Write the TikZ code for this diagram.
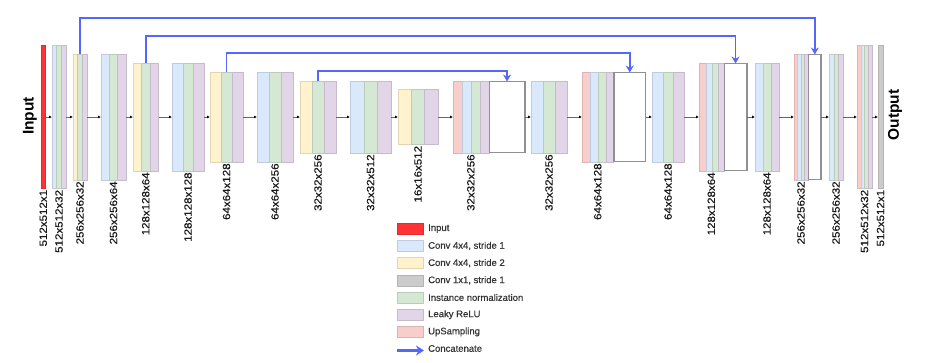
\documentclass[tikz,border=0pt]{standalone}
\usepackage{graphicx}
\usepackage{fontspec}
\setmainfont{Liberation Sans}
\newfontfamily\heavyfont[FakeBold=0.45]{Liberation Sans}
\usetikzlibrary{arrows.meta,fit}
\definecolor{inred}{HTML}{FF3333}
\definecolor{blu}{HTML}{DAE8FC}
\definecolor{yel}{HTML}{FFF2CC}
\definecolor{grn}{HTML}{D5E8D4}
\definecolor{pur}{HTML}{E1D5E7}
\definecolor{pnk}{HTML}{F8CECC}
\definecolor{gry}{HTML}{CCCCCC}
\definecolor{boxgray}{HTML}{909090}
\definecolor{catblue}{HTML}{5566FF}
\definecolor{flowgray}{HTML}{666666}
\tikzset{
  stripe/.style={rectangle, inner sep=0pt, outer sep=0pt, line width=0.35pt},
  catbox/.style={rectangle, inner sep=0pt, outer sep=0pt, draw=boxgray, line width=1.4pt, fill=white},
  lbl/.style={rotate=90, anchor=east, inner sep=1pt, font=\heavyfont\fontsize{10.5}{12}\selectfont, text=black!90},
  flow/.style={draw=flowgray, line width=0.6pt, -{Latex[length=3pt,width=3pt,color=black]}},
  concat/.style={draw=catblue, line width=1.8pt, -{Stealth[length=7pt,width=8pt]}},
  legarrow/.style={draw=catblue, line width=2.6pt, -{Stealth[length=8pt,width=10pt]}},
  zpt/.style={rectangle, inner sep=0pt, outer sep=0pt, minimum size=0pt},
  legtxt/.style={anchor=west, font=\heavyfont\fontsize{9.5}{11}\selectfont, inner sep=0pt, text=black!80},
  swatch/.style={stripe, minimum width=26pt, minimum height=11pt, anchor=west},
  sidetxt/.style={rotate=90, font=\bfseries\fontsize{15.5}{18}\selectfont, inner sep=0pt},
}
\newcommand\blk[5]{%
  \node[zpt] (#1-0) at (#2,117) {};
  \foreach \c/\w [count=\i, remember=\i as \j (initially 0)] in {#4}{%
    \node[stripe, fill=\c, draw=\c!88!black, minimum width=\w pt, minimum height=#3pt, anchor=west] (#1-\i) at (#1-\j.east) {};
    \xdef\lastidx{\i}%
  }%
  \node[fit=(#1-1)(#1-\lastidx), inner sep=0pt] (#1) {};
  \node[lbl] (#1-lbl) at (#1.south) {\scalebox{1.1}[1]{#5}};
}
\begin{document}
\begin{tikzpicture}[x=1pt, y=-1pt]
\useasboundingbox (0,0) rectangle (929,363);

% side texts
\node[sidetxt] (tin) at (30,116) {Input};
\node[sidetxt] (tout) at (895,115) {Output};

% encoder
\blk{in}{41}{143}{inred/4.5}{512x512x1}
\blk{b1}{52}{143}{blu/4.5,grn/5,pur/4.5}{512x512x32}
\blk{b2}{73}{126}{yel/4.5,grn/4.5,pur/5}{256x256x32}
\blk{b3}{101}{126}{blu/8.5,grn/8,pur/8.5}{256x256x64}
\blk{b4}{133}{108}{yel/8.5,grn/8.5,pur/8.5}{128x128x64}
\blk{b5}{172}{108}{blu/10.7,grn/10.7,pur/10.7}{128x128x128}
\blk{b6}{210}{90}{yel/11,grn/11,pur/11}{64x64x128}
\blk{b7}{257}{90}{blu/12,grn/12,pur/12}{64x64x256}
\blk{b8}{300}{72}{yel/12,grn/12,pur/12}{32x32x256}
\blk{b9}{350}{72}{blu/13.7,grn/13.7,pur/13.7}{32x32x512}
\blk{b10}{398}{55}{yel/13.3,grn/13.3,pur/13.3}{16x16x512}

% decoder
\blk{b11}{453}{72}{pnk/9.5,blu/8.5,grn/8.7,pur/9}{32x32x256}
\node[catbox, minimum width=35.5pt, minimum height=71pt, anchor=west] (b11-box) at ([xshift=0.6pt]b11-4.east) {};
\blk{b12}{531}{72}{blu/12,grn/12,pur/12}{32x32x256}
\blk{b13}{582}{90}{pnk/8,blu/7.7,grn/8,pur/7.7}{64x64x128}
\node[catbox, minimum width=31.5pt, minimum height=89pt, anchor=west] (b13-box) at ([xshift=0.6pt]b13-4.east) {};
\blk{b14}{652}{90}{blu/10.7,grn/10.7,pur/10.7}{64x64x128}
\blk{b15}{699}{108}{pnk/7.3,blu/5.7,grn/5.7,pur/6}{128x128x64}
\node[catbox, minimum width=22.5pt, minimum height=107pt, anchor=west] (b15-box) at ([xshift=0.6pt]b15-4.east) {};
\blk{b16}{755}{108}{blu/8,grn/8,pur/8}{128x128x64}
\blk{b17}{794}{126}{pnk/3.5,blu/3.5,grn/3.5,pur/3.5}{256x256x32}
\node[catbox, minimum width=12.5pt, minimum height=125pt, anchor=west] (b17-box) at ([xshift=0.6pt]b17-4.east) {};
\blk{b18}{829}{126}{blu/4.7,grn/4.7,pur/4.7}{256x256x32}
\blk{b19}{857}{143}{pnk/3.7,blu/3.7,grn/3.8,pur/3.8}{512x512x32}
\blk{out}{878}{143}{gry/5}{512x512x1}

% flow arrows
\draw[flow] (in-1.east) -- (b1-1.west);
\draw[flow] (b1-3.east) -- (b2-1.west);
\draw[flow] (b2-3.east) -- (b3-1.west);
\draw[flow] (b3-3.east) -- (b4-1.west);
\draw[flow] (b4-3.east) -- (b5-1.west);
\draw[flow] (b5-3.east) -- (b6-1.west);
\draw[flow] (b6-3.east) -- (b7-1.west);
\draw[flow] (b7-3.east) -- (b8-1.west);
\draw[flow] (b8-3.east) -- (b9-1.west);
\draw[flow] (b9-3.east) -- (b10-1.west);
\draw[flow] (b10-3.east) -- (b11-1.west);
\draw[flow] (b11-box.east) -- (b12-1.west);
\draw[flow] (b12-3.east) -- (b13-1.west);
\draw[flow] (b13-box.east) -- (b14-1.west);
\draw[flow] (b14-3.east) -- (b15-1.west);
\draw[flow] (b15-box.east) -- (b16-1.west);
\draw[flow] (b16-3.east) -- (b17-1.west);
\draw[flow] (b17-box.east) -- (b18-1.west);
\draw[flow] (b18-3.east) -- (b19-1.west);
\draw[flow] (b19-4.east) -- (out-1.west);

% concatenations
\draw[concat] (b2-2.north) -- (b2-2.north |- 0,18) -| (b17-box.north);
\draw[concat] (b4-2.north) -- (b4-2.north |- 0,36) -| (b15-box.north);
\draw[concat] (b6-2.north) -- (b6-2.north |- 0,53) -| (b13-box.north);
\draw[concat] (b8-2.north) -- (b8-2.north |- 0,71) -| (b11-box.north);

% legend
\node[swatch, fill=inred, draw=inred!88!black] (lg1) at (397,228.7) {};
\node[legtxt] (lt1) at ([xshift=5pt]lg1.east) {Input};
\node[swatch, fill=blu, draw=blu!88!black] (lg2) at (397,245.9) {};
\node[legtxt] (lt2) at ([xshift=5pt]lg2.east) {Conv 4x4, stride 1};
\node[swatch, fill=yel, draw=yel!88!black] (lg3) at (397,263.1) {};
\node[legtxt] (lt3) at ([xshift=5pt]lg3.east) {Conv 4x4, stride 2};
\node[swatch, fill=gry, draw=gry!88!black] (lg4) at (397,280.3) {};
\node[legtxt] (lt4) at ([xshift=5pt]lg4.east) {Conv 1x1, stride 1};
\node[swatch, fill=grn, draw=grn!88!black] (lg5) at (397,297.5) {};
\node[legtxt] (lt5) at ([xshift=5pt]lg5.east) {Instance normalization};
\node[swatch, fill=pur, draw=pur!88!black] (lg6) at (397,314.7) {};
\node[legtxt] (lt6) at ([xshift=5pt]lg6.east) {Leaky ReLU};
\node[swatch, fill=pnk, draw=pnk!88!black] (lg7) at (397,331.9) {};
\node[legtxt] (lt7) at ([xshift=5pt]lg7.east) {UpSampling};
\coordinate (la1) at (397,350.5);
\coordinate (la2) at (424,350.5);
\draw[legarrow] (la1) -- (la2);
\node[legtxt] (lt8) at (428,348.5) {Concatenate};
\end{tikzpicture}
\end{document}
